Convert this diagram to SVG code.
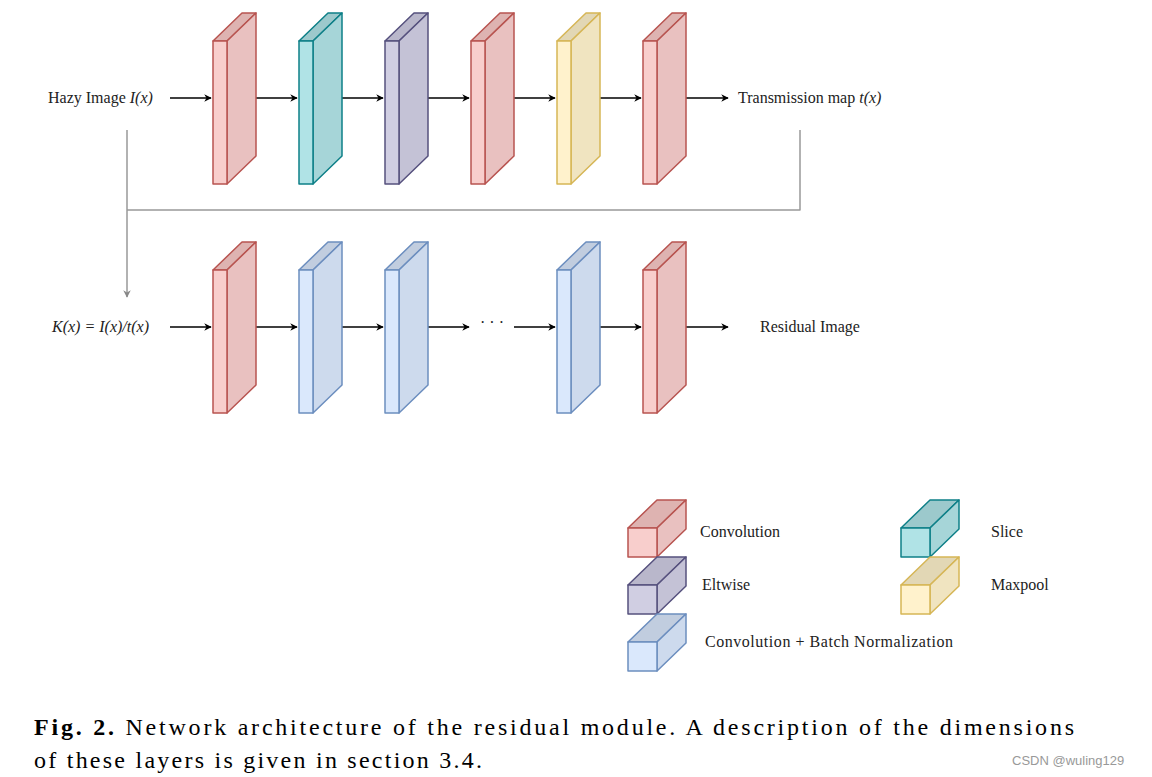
<svg xmlns="http://www.w3.org/2000/svg" width="1152" height="777" viewBox="0 0 1152 777">
<defs>
<marker id="ah" viewBox="0 0 10 10" refX="9" refY="5" markerWidth="5" markerHeight="5" orient="auto"><path d="M0,0 L10,5 L0,10 L3,5 Z" fill="#000"/></marker>
<marker id="ag" viewBox="0 0 10 10" refX="9" refY="5" markerWidth="5" markerHeight="5" orient="auto"><path d="M0,0 L10,5 L0,10 L3,5 Z" fill="#888"/></marker>
</defs>
<style>
text{font-family:"Liberation Serif",serif;fill:#222}
.lbl{font-size:16px}
.cap{font-size:24px;fill:#000}
.wm{font-family:"Liberation Sans",sans-serif;font-size:13px;fill:#999}
path,rect{stroke-width:1.5;stroke-linejoin:round}
.conv path,.conv rect{stroke:#b85450}
.conv .f{fill:#f8cecc}.conv .s{fill:#e9c1c0}.conv .t{fill:#deb3b1}
.slice path,.slice rect{stroke:#0e8088}
.slice .f{fill:#b0e3e6}.slice .s{fill:#a6d5d8}.slice .t{fill:#9cc9cc}
.elt path,.elt rect{stroke:#56517e}
.elt .f{fill:#d0cee2}.elt .s{fill:#c4c2d6}.elt .t{fill:#b9b7cb}
.mp path,.mp rect{stroke:#d6b656}
.mp .f{fill:#fff2cc}.mp .s{fill:#f0e4c0}.mp .t{fill:#e2d7b5}
.bn path,.bn rect{stroke:#6c8ebf}
.bn .f{fill:#dae8fc}.bn .s{fill:#cddaed}.bn .t{fill:#c1cddf}
.c line,.c path{stroke:#000;stroke-width:1.5;fill:none}
.c .g{stroke:#999}
</style>
<g id="connectors" class="c">
<line x1="170" y1="98" x2="211" y2="98" marker-end="url(#ah)"/>
<line x1="256" y1="98" x2="297" y2="98" marker-end="url(#ah)"/>
<line x1="342" y1="98" x2="383" y2="98" marker-end="url(#ah)"/>
<line x1="428" y1="98" x2="469" y2="98" marker-end="url(#ah)"/>
<line x1="514" y1="98" x2="555" y2="98" marker-end="url(#ah)"/>
<line x1="600" y1="98" x2="641" y2="98" marker-end="url(#ah)"/>
<line x1="686" y1="98" x2="728" y2="98" marker-end="url(#ah)"/>
<line x1="170" y1="327" x2="211" y2="327" marker-end="url(#ah)"/>
<line x1="256" y1="327" x2="297" y2="327" marker-end="url(#ah)"/>
<line x1="342" y1="327" x2="383" y2="327" marker-end="url(#ah)"/>
<line x1="428" y1="327" x2="469" y2="327" marker-end="url(#ah)"/>
<line x1="514" y1="327" x2="555" y2="327" marker-end="url(#ah)"/>
<line x1="600" y1="327" x2="641" y2="327" marker-end="url(#ah)"/>
<line x1="686" y1="327" x2="728" y2="327" marker-end="url(#ah)"/>
<path class="g" d="M800,130 L800,210 L127,210"/>
<line class="g" x1="127" y1="130" x2="127" y2="297" marker-end="url(#ag)"/>
</g>
<g id="labels">
<text class="lbl" x="48" y="103">Hazy Image <tspan font-style="italic">I(x)</tspan></text>
<text class="lbl" x="738" y="103">Transmission map <tspan font-style="italic">t(x)</tspan></text>
<text class="lbl" x="52" y="332" font-style="italic">K(x) = I(x)/t(x)</text>
<text class="lbl" x="760" y="332">Residual Image</text>
<text class="lbl" x="480" y="328">· · ·</text>
</g>
<g id="n1" class="conv" transform="translate(213,13)"><path class="t" d="M0,28 L29,0 L43,0 L14,28 Z"/><path class="s" d="M14,28 L43,0 L43,143 L14,171 Z"/><rect class="f" x="0" y="28" width="14" height="143"/></g>
<g id="n2" class="slice" transform="translate(299,13)"><path class="t" d="M0,28 L29,0 L43,0 L14,28 Z"/><path class="s" d="M14,28 L43,0 L43,143 L14,171 Z"/><rect class="f" x="0" y="28" width="14" height="143"/></g>
<g id="n3" class="elt" transform="translate(385,13)"><path class="t" d="M0,28 L29,0 L43,0 L14,28 Z"/><path class="s" d="M14,28 L43,0 L43,143 L14,171 Z"/><rect class="f" x="0" y="28" width="14" height="143"/></g>
<g id="n4" class="conv" transform="translate(471,13)"><path class="t" d="M0,28 L29,0 L43,0 L14,28 Z"/><path class="s" d="M14,28 L43,0 L43,143 L14,171 Z"/><rect class="f" x="0" y="28" width="14" height="143"/></g>
<g id="n5" class="mp" transform="translate(557,13)"><path class="t" d="M0,28 L29,0 L43,0 L14,28 Z"/><path class="s" d="M14,28 L43,0 L43,143 L14,171 Z"/><rect class="f" x="0" y="28" width="14" height="143"/></g>
<g id="n6" class="conv" transform="translate(643,13)"><path class="t" d="M0,28 L29,0 L43,0 L14,28 Z"/><path class="s" d="M14,28 L43,0 L43,143 L14,171 Z"/><rect class="f" x="0" y="28" width="14" height="143"/></g>
<g id="m1" class="conv" transform="translate(213,242)"><path class="t" d="M0,28 L29,0 L43,0 L14,28 Z"/><path class="s" d="M14,28 L43,0 L43,143 L14,171 Z"/><rect class="f" x="0" y="28" width="14" height="143"/></g>
<g id="m2" class="bn" transform="translate(299,242)"><path class="t" d="M0,28 L29,0 L43,0 L14,28 Z"/><path class="s" d="M14,28 L43,0 L43,143 L14,171 Z"/><rect class="f" x="0" y="28" width="14" height="143"/></g>
<g id="m3" class="bn" transform="translate(385,242)"><path class="t" d="M0,28 L29,0 L43,0 L14,28 Z"/><path class="s" d="M14,28 L43,0 L43,143 L14,171 Z"/><rect class="f" x="0" y="28" width="14" height="143"/></g>
<g id="m4" class="bn" transform="translate(557,242)"><path class="t" d="M0,28 L29,0 L43,0 L14,28 Z"/><path class="s" d="M14,28 L43,0 L43,143 L14,171 Z"/><rect class="f" x="0" y="28" width="14" height="143"/></g>
<g id="m5" class="conv" transform="translate(643,242)"><path class="t" d="M0,28 L29,0 L43,0 L14,28 Z"/><path class="s" d="M14,28 L43,0 L43,143 L14,171 Z"/><rect class="f" x="0" y="28" width="14" height="143"/></g>
<g id="legend">
<g class="conv" transform="translate(628,500)"><path class="t" d="M0,28 L29,0 L58,0 L29,28 Z"/><path class="s" d="M29,28 L58,0 L58,29 L29,57 Z"/><rect class="f" x="0" y="28" width="29" height="29"/></g>
<g class="elt" transform="translate(628,557)"><path class="t" d="M0,28 L29,0 L58,0 L29,28 Z"/><path class="s" d="M29,28 L58,0 L58,29 L29,57 Z"/><rect class="f" x="0" y="28" width="29" height="29"/></g>
<g class="bn" transform="translate(628,614)"><path class="t" d="M0,28 L29,0 L58,0 L29,28 Z"/><path class="s" d="M29,28 L58,0 L58,29 L29,57 Z"/><rect class="f" x="0" y="28" width="29" height="29"/></g>
<g class="slice" transform="translate(901,500)"><path class="t" d="M0,28 L29,0 L58,0 L29,28 Z"/><path class="s" d="M29,28 L58,0 L58,29 L29,57 Z"/><rect class="f" x="0" y="28" width="29" height="29"/></g>
<g class="mp" transform="translate(901,557)"><path class="t" d="M0,28 L29,0 L58,0 L29,28 Z"/><path class="s" d="M29,28 L58,0 L58,29 L29,57 Z"/><rect class="f" x="0" y="28" width="29" height="29"/></g>
<text class="lbl" x="700" y="537">Convolution</text>
<text class="lbl" x="702" y="590">Eltwise</text>
<text class="lbl" x="705" y="647" textLength="248">Convolution + Batch Normalization</text>
<text class="lbl" x="991" y="537">Slice</text>
<text class="lbl" x="991" y="590">Maxpool</text>
</g>
<text class="cap" x="34" y="735" textLength="1040"><tspan font-weight="bold">Fig. 2.</tspan> Network architecture of the residual module. A description of the dimensions</text>
<text class="cap" x="34" y="768" textLength="448">of these layers is given in section 3.4.</text>
<text class="wm" x="1012" y="765">CSDN @wuling129</text>
</svg>
